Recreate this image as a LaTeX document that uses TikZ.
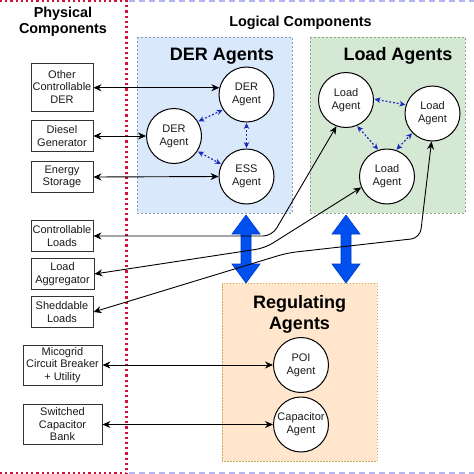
\documentclass[tikz,border=0pt]{standalone}
\usepackage{fontspec}
\setmainfont{Liberation Sans}
\usetikzlibrary{arrows.meta}
\definecolor{derfill}{HTML}{DAE8FC}
\definecolor{derline}{HTML}{8A9BB0}
\definecolor{loadfill}{HTML}{D5E8D4}
\definecolor{loadline}{HTML}{8FA38F}
\definecolor{regfill}{HTML}{FFE6CC}
\definecolor{regline}{HTML}{C8A860}
\definecolor{bigblue}{HTML}{0050EF}
\definecolor{bigblueline}{HTML}{0038C8}
\definecolor{dotblue}{HTML}{1A2AB8}
\definecolor{sepred}{HTML}{D0103A}
\definecolor{lav}{HTML}{B4B4F0}
\definecolor{txt}{HTML}{1A1A1A}
\begin{document}
\begin{tikzpicture}[x=1pt,y=-1pt,
  phys/.style={draw=black!80, line width=0.9pt, fill=white, align=center,
    inner sep=0pt, font=\fontsize{11}{12.5}\selectfont, text=txt},
  agent/.style={circle, draw=black, line width=1pt, fill=white,
    minimum size=55pt, inner sep=0pt, align=center,
    font=\fontsize{11}{13}\selectfont, text=txt},
  grouptitle/.style={font=\fontsize{18}{21}\selectfont\bfseries, text=black, align=center, inner sep=0pt},
  sectitle/.style={font=\fontsize{14.4}{16.5}\selectfont\bfseries, text=black, align=center, inner sep=0pt},
  derbox/.style={fill=derfill, draw=derline, line width=0.8pt, dash pattern=on 2pt off 2pt},
  loadbox/.style={fill=loadfill, draw=loadline, line width=0.8pt, dash pattern=on 2pt off 2pt},
  regbox/.style={fill=regfill, draw=regline, line width=0.8pt, dash pattern=on 1.5pt off 1.5pt},
  bigarrow/.style={fill=bigblue, draw=bigblueline, line width=0.6pt},
  conn/.style={draw=black, line width=0.9pt, rounded corners=9pt,
    {Stealth[length=8pt,width=7pt]}-{Stealth[length=8pt,width=7pt]}},
  alink/.style={draw=dotblue, line width=1.2pt, dash pattern=on 1.8pt off 2pt,
    {Stealth[length=6pt,width=5.5pt]}-{Stealth[length=6pt,width=5.5pt]}, shorten <=0.5pt, shorten >=0.5pt},
  redsep/.style={draw=sepred, line width=2.2pt, dash pattern=on 2.2pt off 3pt},
  lavsep/.style={draw=lav, line width=2pt, dash pattern=on 6pt off 4pt}
]
\useasboundingbox (0,0) rectangle (474,474);

% section borders
\draw[lavsep] (129,1) -- (474,1);
\draw[lavsep] (129,473) -- (474,473);
\draw[redsep] (0,1) -- (126,1);
\draw[redsep] (0,473) -- (126,473);
\draw[redsep] (126.5,0) -- (126.5,474);

% section titles
\node[sectitle] (physt) at (63,22) {Physical\\Components};
\node[sectitle, anchor=base] (logt) at (300.5,26) {Logical Components};

% group boxes
\draw[derbox] (137,37) rectangle (292,213);
\draw[loadbox] (310,37) rectangle (465,213);
\draw[regbox] (222,283) rectangle (377,461);
\node[grouptitle, anchor=base] (dert) at (222,60) {DER Agents};
\node[grouptitle, anchor=base] (loadt) at (398,60) {Load Agents};
\node[grouptitle] (regt) at (299.5,314) {Regulating\\[0pt]Agents};

% big double arrows
\foreach \cx in {246,346} {
  \filldraw[bigarrow] (\cx,215) -- (\cx+14,234) -- (\cx+5,234) -- (\cx+5,264)
    -- (\cx+14,264) -- (\cx,283) -- (\cx-14,264) -- (\cx-5,264)
    -- (\cx-5,234) -- (\cx-14,234) -- cycle;
}

% physical components
\node[phys, minimum width=62pt, minimum height=48pt] (oc) at (62,87) {Other\\Controllable\\DER};
\node[phys, minimum width=62pt, minimum height=31pt] (dg) at (62,136) {Diesel\\Generator};
\node[phys, minimum width=62pt, minimum height=31pt] (es) at (62,177) {Energy\\Storage};
\node[phys, minimum width=62pt, minimum height=31pt] (cl) at (62,236) {Controllable\\Loads};
\node[phys, minimum width=63pt, minimum height=31pt] (la) at (62.5,274) {Load\\Aggregator};
\node[phys, minimum width=62pt, minimum height=31pt] (sl) at (62,312) {Sheddable\\Loads};
\node[phys, minimum width=79pt, minimum height=40pt] (mcb) at (62.5,365) {Micogrid\\Circuit Breaker\\+ Utility};
\node[phys, minimum width=79pt, minimum height=40pt] (scb) at (62.5,424.5) {Switched\\Capacitor\\Bank};

% agents
\node[agent] (derT) at (246.5,94.5) {DER\\Agent};
\node[agent] (derL) at (174,136) {DER\\Agent};
\node[agent] (ess)  at (246.5,176.5) {ESS\\Agent};
\node[agent] (lTL)  at (346,100) {Load\\Agent};
\node[agent] (lR)   at (432.5,113.5) {Load\\Agent};
\node[agent] (lM)   at (387,176.5) {Load\\Agent};
\node[agent] (poi)  at (301,365) {POI\\Agent};
\node[agent] (cap)  at (301,424.5) {Capacitor\\Agent};

% agent-to-agent links
\draw[alink] (derL.31) -- (derT.213);
\draw[alink] (derL.327) -- (ess.154);
\draw[alink] (derT.south) -- (ess.north);
\draw[alink] (lTL.2) -- (lR.162);
\draw[alink] (lTL.293) -- (lM.108);
\draw[alink] (lM.71) -- (lR.224);

% physical-to-agent connectors
\coordinate (ca) at (272,236);
\coordinate (cb) at (265,248);
\coordinate (cc1) at (287,253);
\coordinate (cc2) at (420,238);
\draw[conn] (oc.east |- derT.166) -- (derT.166);
\draw[conn] (dg.east) -- (derL.west);
\draw[conn] (es.east) -- (ess.west);
\draw[conn] (cl.east) -- (ca) -- (lTL.250);
\draw[conn] (la.east) -- (cb) -- (lM.203);
\draw[conn] (sl.east) -- (cc1) -- (cc2) -- (lR.268);
\draw[conn] (mcb.east) -- (poi.west);
\draw[conn] (scb.east) -- (cap.west);
\end{tikzpicture}
\end{document}
